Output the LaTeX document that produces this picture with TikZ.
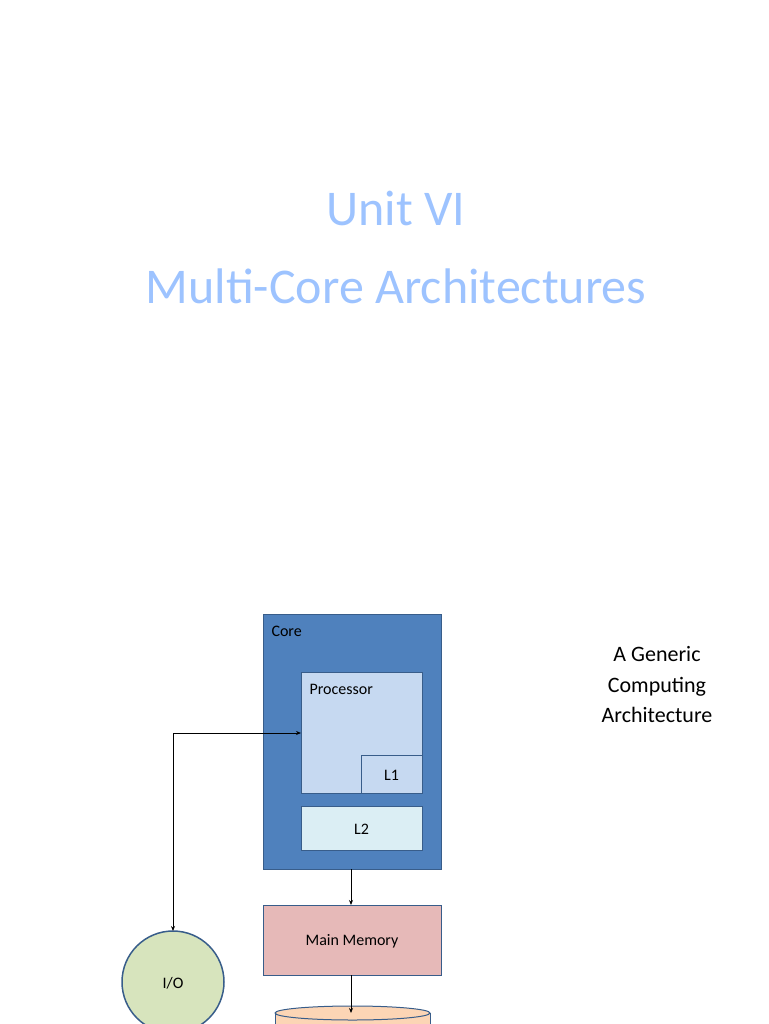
\documentclass[tikz,border=0pt]{standalone}
\usepackage{fontspec}
\setmainfont{Carlito}
\begin{document}
\begin{tikzpicture}[x=1pt,y=-1pt,
  bx/.style={draw=#1!70!black,line width=1pt},
  lbl/.style={font=\fontsize{16}{18}\selectfont},
  arr/.style={-{Stealth[length=5pt,width=4pt]},line width=1pt}]
\usetikzlibrary{arrows.meta}
\definecolor{coreb}{HTML}{4F81BD}
\definecolor{procb}{HTML}{C6D9F1}
\definecolor{ltwo}{HTML}{DBEEF4}
\definecolor{mem}{HTML}{E6B9B8}
\definecolor{io}{HTML}{D7E4BD}
\definecolor{disk}{HTML}{FCD5B5}
\definecolor{ttl}{HTML}{9DC3FF}
\definecolor{edge}{HTML}{385D8A}
\useasboundingbox (0,0) rectangle (768,1024);
\begin{scope}
\clip (0,0) rectangle (768,1024);
\node[font=\fontsize{50}{60}\selectfont,text=ttl] (t1) at (396,208) {Unit VI};
\node[font=\fontsize{50}{60}\selectfont,text=ttl] (t2) at (396,286) {Multi-Core Architectures};
\node[align=center,font=\fontsize{22}{30.5}\selectfont] (gen) at (657,685) {A Generic\\Computing\\Architecture};
\draw[fill=coreb,draw=edge,line width=1pt] (263,614) rectangle (441,869);
\coordinate (coreB) at (351,869);
\node[lbl,anchor=west,text=black] (corel) at (268,631) {Core};
\draw[fill=procb,draw=edge,line width=1pt] (301,672) rectangle (422,793);
\coordinate (procW) at (301,733);
\node[lbl,anchor=west] (procl) at (306,689) {Processor};
\draw[fill=procb,draw=edge,line width=1pt] (361,755) rectangle (422,793);
\node[lbl] (l1) at (391.5,775) {L1};
\draw[fill=ltwo,draw=edge,line width=1pt] (301,806) rectangle (422,850);
\node[lbl] (l2) at (361.5,829) {L2};
\draw[fill=mem,draw=edge,line width=1pt] (263,905) rectangle (441,975);
\node[lbl] (mm) at (352,941) {Main Memory};
\coordinate (memT) at (351,905);
\coordinate (memB) at (351,975);
\draw[fill=io,draw=edge,line width=1.5pt] (173,982) circle (51);
\node[lbl] (iol) at (173,983) {I/O};
\coordinate (ioT) at (173,931);
\draw[fill=disk,draw=edge,line width=1pt] (275,1013) -- (275,1040) -- (430,1040) -- (430,1013);
\draw[fill=disk,draw=edge,line width=1pt] (352.5,1013) ellipse (77.5 and 7);
\coordinate (diskT) at (351,1013);
\draw[arr,{Stealth[length=5pt,width=4pt]}-{Stealth[length=5pt,width=4pt]}] (ioT) -- (173,733) -- (procW);
\draw[arr] (coreB) -- (memT);
\draw[arr] (memB) -- (diskT);
\end{scope}
\end{tikzpicture}
\end{document}
